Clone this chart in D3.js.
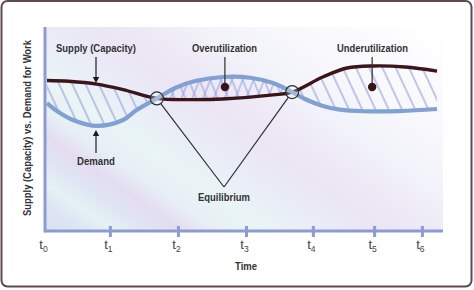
<!DOCTYPE html>
<html><head><meta charset="utf-8">
<script src="https://cdn.jsdelivr.net/npm/d3@7"></script>
<style>
html,body{margin:0;padding:0;background:#fff;}
svg{display:block;}
text{font-family:"Liberation Sans",Arial,sans-serif;}
</style></head>
<body>
<svg id="c" width="474" height="290"></svg>
<script>
// ---- data ----
const supplyX = [0.5, 6, 13, 19.6, 28.1, 36, 44.7, 57.3, 62.1, 69.8, 75.9, 82.4, 90.5, 98.5];
const supplyY = [73.8, 73.4, 72.0, 69.3, 65.0, 64.4, 64.7, 66.7, 68.1, 75.5, 79.9, 80.9, 80.4, 78.4];
const demandX = [0.5, 3, 7, 13.1, 19.6, 23, 28.1, 32.7, 37.7, 44.7, 52, 57.3, 62.1, 65.3, 69.8, 74.1, 80, 89.2, 98.5];
const demandY = [62.7, 58.8, 54.4, 51.5, 54.4, 59.3, 65.0, 70.1, 73.5, 75.5, 75, 72.5, 68.1, 64.7, 61.3, 59.5, 58.7, 58.8, 59.8];
const tickPos = [0, 16.3, 33.4, 50.5, 67.3, 82.7, 94.7];
const tickSub = ["0", "1", "2", "3", "4", "5", "6"];
const crossX = [28.1, 62.1];
const crossY = [65.0, 68.1];
const regionLabels = ["Supply (Capacity)", "Overutilization", "Underutilization", "Demand", "Equilibrium"];
const axisTitles = ["Time", "Supply (Capacity) vs. Demand for Work"];

const svg = d3.select("#c");
const W = 474, H = 290;
const x = d3.scaleLinear().domain([0, 100]).range([45, 443]);
const y = d3.scaleLinear().domain([0, 100]).range([231, 27]);

const defs = svg.append("defs");
// background gradient with diagonal bands
const g = defs.append("linearGradient").attr("id", "bg")
  .attr("gradientUnits", "userSpaceOnUse")
  .attr("x1", 45).attr("y1", 231)
  .attr("x2", 45 + 0.57 * 394).attr("y2", 231 - 0.82 * 394);
[[0, "#d9dff2"], [0.06, "#dde6f4"], [0.1, "#e4f2f3"], [0.15, "#e0e5f4"], [0.2, "#e4dcf1"], [0.25, "#e7eff6"],
 [0.32, "#eaf5f5"], [0.4, "#e9edf7"], [0.5, "#ebe5f4"], [0.56, "#ede9f6"], [0.65, "#f2f3fa"], [0.8, "#f9f9fd"], [1, "#ffffff"]]
  .forEach(s => g.append("stop").attr("offset", s[0]).attr("stop-color", s[1]));

const pA = defs.append("pattern").attr("id", "hatchA").attr("patternUnits", "userSpaceOnUse")
  .attr("width", 12).attr("height", 12).attr("patternTransform", "rotate(-25)");
pA.append("line").attr("x1", 6).attr("y1", 0).attr("x2", 6).attr("y2", 12)
  .attr("stroke", "#98a3da").attr("stroke-width", 1.2);
const pB = defs.append("pattern").attr("id", "hatchB1").attr("patternUnits", "userSpaceOnUse")
  .attr("width", 10).attr("height", 10).attr("patternTransform", "rotate(-22)");
pB.append("line").attr("x1", 5).attr("y1", 0).attr("x2", 5).attr("y2", 10)
  .attr("stroke", "#98a3da").attr("stroke-width", 1.1);
const pC = defs.append("pattern").attr("id", "hatchB2").attr("patternUnits", "userSpaceOnUse")
  .attr("width", 10).attr("height", 10).attr("patternTransform", "rotate(22)");
pC.append("line").attr("x1", 5).attr("y1", 0).attr("x2", 5).attr("y2", 10)
  .attr("stroke", "#98a3da").attr("stroke-width", 1.1);

// clip regions
const cx1 = x(crossX[0]), cx2 = x(crossX[1]);
defs.append("clipPath").attr("id", "clipOut").call(c => {
  c.append("rect").attr("x", 0).attr("y", 0).attr("width", cx1).attr("height", H);
  c.append("rect").attr("x", cx2).attr("y", 0).attr("width", W - cx2).attr("height", H);
});
defs.append("clipPath").attr("id", "clipMid").append("rect")
  .attr("x", cx1).attr("y", 0).attr("width", cx2 - cx1).attr("height", H);

// frame
svg.append("rect").attr("x", 1.5).attr("y", 1).attr("width", 470).attr("height", 285.5)
  .attr("rx", 6).attr("fill", "#fff").attr("stroke", "#5c4953").attr("stroke-width", 2);

// plot background
svg.append("rect").attr("x", x(0)).attr("y", y(100)).attr("width", x(100) - x(0)).attr("height", y(0) - y(100))
  .attr("fill", "url(#bg)");

const supply = supplyX.map((v, i) => [v, supplyY[i]]);
const demand = demandX.map((v, i) => [v, demandY[i]]);
const line = d3.line().x(d => x(d[0])).y(d => y(d[1])).curve(d3.curveCatmullRom.alpha(0.5));

const areaPath = line(supply) + "L" + line(demand.slice().reverse()).slice(1) + "Z";
svg.append("path").attr("d", areaPath).attr("fill", "url(#hatchA)").attr("clip-path", "url(#clipOut)");
svg.append("path").attr("d", areaPath).attr("fill", "url(#hatchB1)").attr("clip-path", "url(#clipMid)");
svg.append("path").attr("d", areaPath).attr("fill", "url(#hatchB2)").attr("clip-path", "url(#clipMid)");

svg.append("path").attr("d", line(supply)).attr("fill", "none").attr("stroke", "#3c1419").attr("stroke-width", 3.4);
svg.append("path").attr("d", line(demand)).attr("fill", "none").attr("stroke", "#82a1d3").attr("stroke-width", 4.2);

// axes
const xAxis = d3.axisBottom(x).tickValues(tickPos).tickSize(0).tickFormat("");
const ax = svg.append("g").attr("transform", `translate(0,${y(0)})`).call(xAxis);
ax.select(".domain").remove();
svg.append("line").attr("x1", x(0)).attr("x2", x(100)).attr("y1", y(0)).attr("y2", y(0))
  .attr("stroke", "#8e9bd1").attr("stroke-width", 3);
svg.append("line").attr("x1", x(0)).attr("x2", x(0)).attr("y1", y(100)).attr("y2", y(0) + 1.5)
  .attr("stroke", "#8e9bd1").attr("stroke-width", 3);
ax.selectAll(".tick").each(function(d, i) {
  const t = d3.select(this);
  if (i > 0) t.append("line").attr("y1", -5).attr("y2", 6).attr("stroke", "#8e9bd1").attr("stroke-width", 3);
  const tx = t.append("text").attr("x", -2).attr("y", 18).attr("text-anchor", "middle")
    .attr("fill", "#444").style("font-size", "13px");
  tx.append("tspan").text("t");
  tx.append("tspan").attr("dy", 3).style("font-size", "8.5px").text(tickSub[i]);
});

// text helper (condensed to match reference widths)
const boldText = (s, px, py, w) => svg.append("text").attr("x", px).attr("y", py)
  .attr("text-anchor", "middle").attr("fill", "#333").style("font-size", "11px")
  .style("font-weight", "bold").attr("textLength", w).attr("lengthAdjust", "spacingAndGlyphs").text(s);
boldText(axisTitles[0], 246, 270, 22);
svg.append("text").attr("transform", `translate(31,${128}) rotate(-90)`)
  .attr("text-anchor", "middle").attr("fill", "#333").style("font-size", "11px").style("font-weight", "bold")
  .attr("textLength", 176).attr("lengthAdjust", "spacingAndGlyphs")
  .text(axisTitles[1]);

// annotations
const ink = "#2e2e2e";
const arrow = (xx, yFrom, yTip) => {
  const dir = yTip > yFrom ? 1 : -1;
  svg.append("line").attr("x1", xx).attr("x2", xx).attr("y1", yFrom).attr("y2", yTip - dir * 5)
    .attr("stroke", ink).attr("stroke-width", 1.3);
  svg.append("path").attr("d", `M${xx - 3.2},${yTip - dir * 6}L${xx + 3.2},${yTip - dir * 6}L${xx},${yTip}Z`).attr("fill", "#1a1a1a");
};
boldText(regionLabels[0], 96, 52, 80);
arrow(96, 57, 83);
boldText(regionLabels[3], 96, 165, 38);
arrow(96, 153, 130);

// dots with leaders
const dots = [[45.2, 70.6, 224.5, regionLabels[1], 65], [82.2, 70.6, 372.5, regionLabels[2], 71]];
dots.forEach(dd => {
  boldText(dd[3], dd[2], 52, dd[4]);
  svg.append("line").attr("x1", x(dd[0])).attr("x2", x(dd[0])).attr("y1", 57).attr("y2", y(dd[1]))
    .attr("stroke", ink).attr("stroke-width", 1.2);
  svg.append("circle").attr("cx", x(dd[0])).attr("cy", y(dd[1])).attr("r", 4.2).attr("fill", "#3a1217");
});

// equilibrium
const apex = [224, 187];
crossX.forEach((cxv, i) => {
  const px = x(cxv), py = y(crossY[i]);
  const dx = apex[0] - px, dy = apex[1] - py, L = Math.hypot(dx, dy);
  svg.append("line").attr("x1", px + dx / L * 6.5).attr("y1", py + dy / L * 6.5)
    .attr("x2", apex[0]).attr("y2", apex[1]).attr("stroke", ink).attr("stroke-width", 1.2);
  svg.append("circle").attr("cx", px).attr("cy", py).attr("r", 6.5)
    .attr("fill", "rgba(255,255,255,0.25)").attr("stroke", ink).attr("stroke-width", 1.2);
});
boldText(regionLabels[4], 224, 201, 52);
</script>
</body></html>
